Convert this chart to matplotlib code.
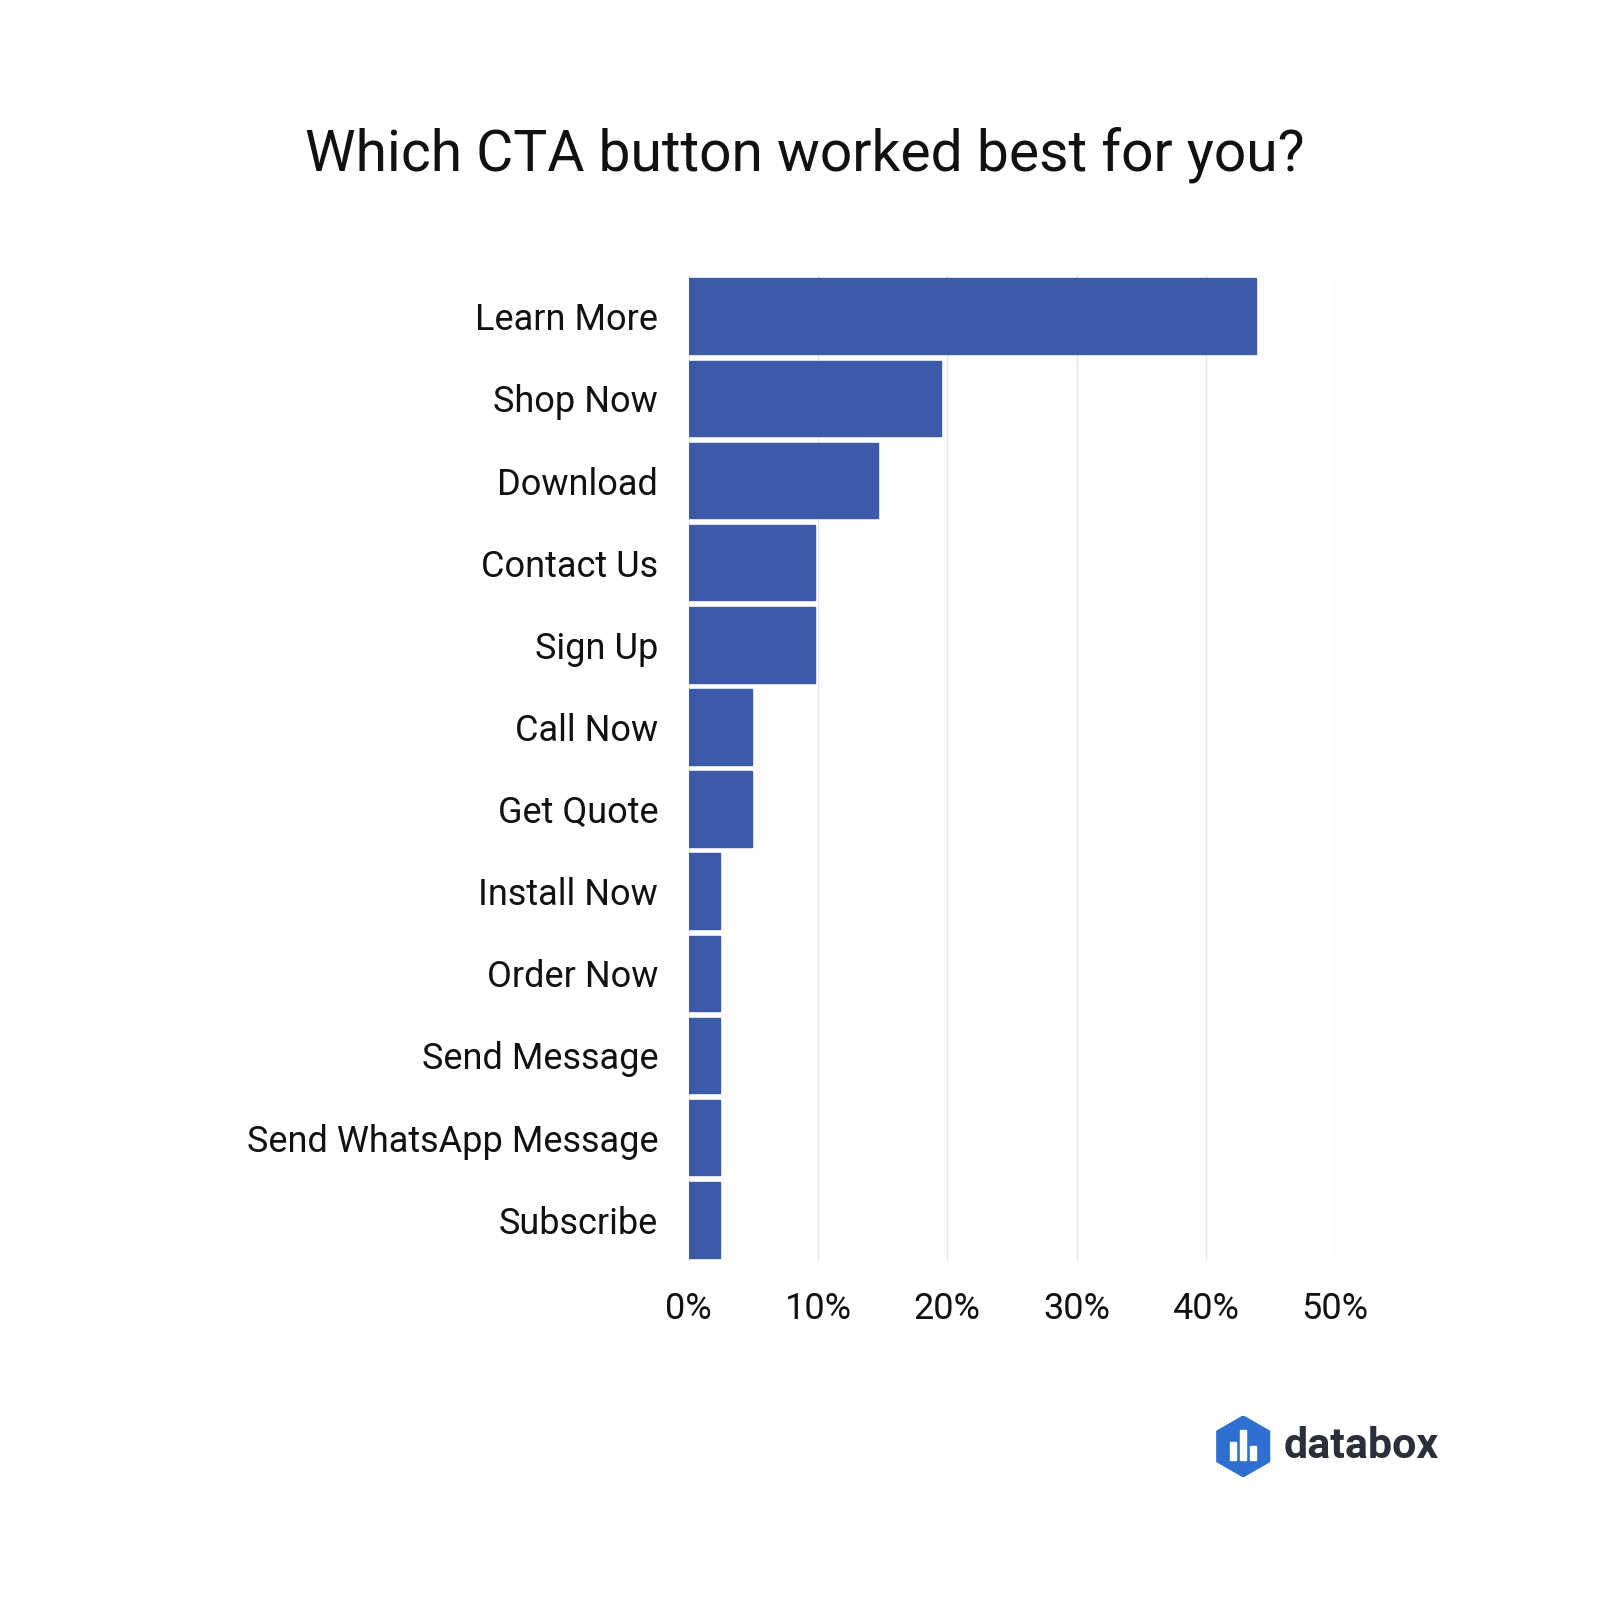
import matplotlib
matplotlib.use("Agg")
import matplotlib.pyplot as plt
from matplotlib.patches import RegularPolygon, Rectangle

categories = ["Learn More", "Shop Now", "Download", "Contact Us", "Sign Up", "Call Now",
              "Get Quote", "Install Now", "Order Now", "Send Message",
              "Send WhatsApp Message", "Subscribe"]
values = [43.9, 19.5, 14.6, 9.8, 9.8, 4.9, 4.9, 2.4, 2.4, 2.4, 2.4, 2.4]
xticks = [0, 10, 20, 30, 40, 50]
xticklabels = ["0%", "10%", "20%", "30%", "40%", "50%"]

plt.rcParams['font.family'] = ['Roboto', 'DejaVu Sans']
fig = plt.figure(figsize=(16, 16), dpi=100)
ax = fig.add_axes([0.4305, 0.212, 0.404, 0.616])
y = list(range(len(categories)))
ax.barh(y, values, height=0.92, color="#3d5aa9", edgecolor="#3d5aa9", zorder=3)
ax.set_ylim(len(categories) - 0.5, -0.5)
ax.set_xlim(0, 50)
ax.set_yticks(y)
ax.set_yticklabels(categories, fontsize=26, color="#111111")
ax.set_xticks(xticks)
ax.set_xticklabels(xticklabels, fontsize=26, color="#111111")
ax.tick_params(axis='y', length=0, pad=22)
ax.tick_params(axis='x', length=0, pad=22)
ax.grid(axis='x', color="#e6e6e6", linewidth=1, zorder=0)
for s in ax.spines.values():
    s.set_visible(False)

fig.text(0.503, 0.903, "Which CTA button worked best for you?", ha="center", va="center",
         fontsize=41, color="#111111")

# logo
lax = fig.add_axes([0.758, 0.077, 0.038, 0.038])
lax.set_xlim(-1, 1); lax.set_ylim(-1, 1); lax.axis("off")
lax.add_patch(RegularPolygon((0, 0), 6, radius=1.0, color="#2f6fd0"))
for i, h in enumerate([0.6, 1.0, 0.45]):
    lax.add_patch(Rectangle((-0.45 + i * 0.33, -0.45), 0.2, h, color="white"))
fig.text(0.802, 0.096, "databox", fontsize=31, fontweight="bold", color="#2b2f3a", va="center")

fig.savefig("out.png", dpi=100, facecolor="white")
